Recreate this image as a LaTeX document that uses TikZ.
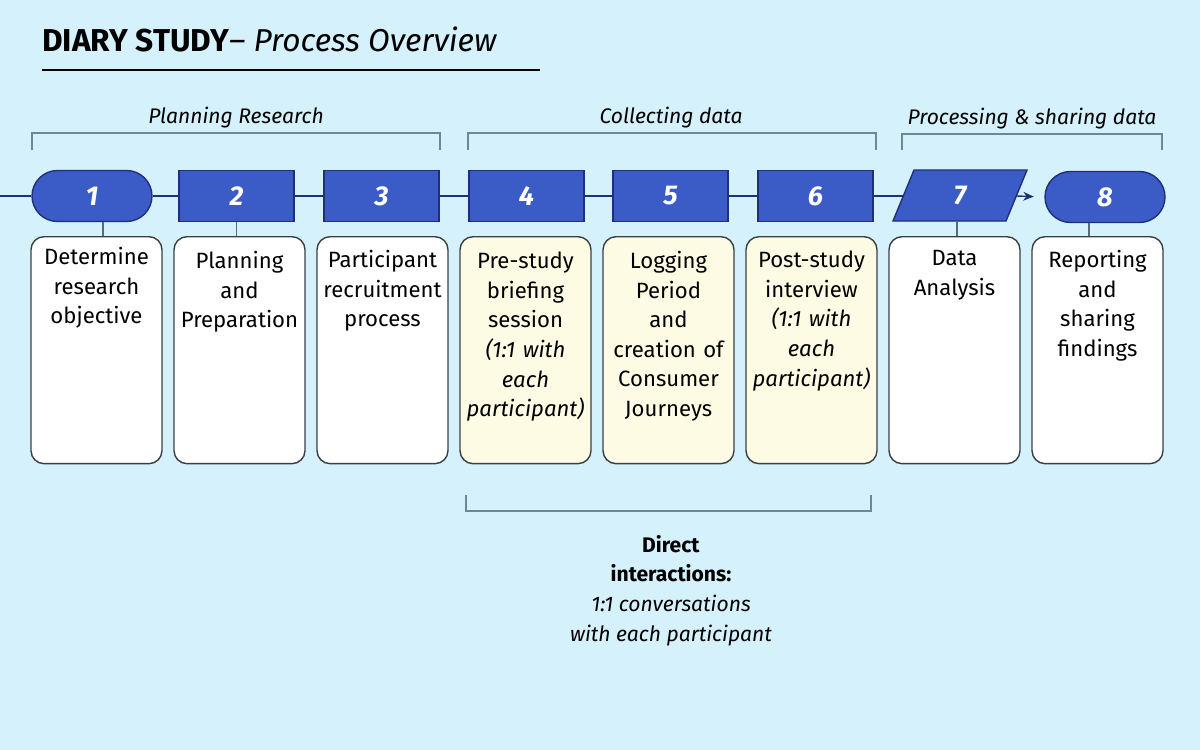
\documentclass[tikz,border=0pt]{standalone}
\usepackage{fontspec}
\setmainfont{Fira Sans}
\usetikzlibrary{shapes.misc,arrows.meta}
\definecolor{bgblue}{HTML}{D4F1FC}
\definecolor{stepblue}{HTML}{3B5BC6}
\definecolor{navy}{HTML}{1F2F7A}
\definecolor{cream}{HTML}{FEFBE4}
\definecolor{boxedge}{HTML}{3A3F44}
\definecolor{brgray}{HTML}{6E8790}
\tikzset{
  numtxt/.style={text=white, font=\bfseries\itshape\fontsize{15.5}{18}\selectfont},
  stepshape/.style={draw=navy, fill=stepblue, line width=0.8pt},
  stepbox/.style={numtxt, stepshape, rectangle, minimum width=2.3cm, minimum height=1.02cm, inner sep=0pt},
  stepround/.style={numtxt, stepshape, rounded rectangle, minimum width=2.4cm, minimum height=1.02cm, inner sep=0pt},
  infobox/.style={draw=boxedge, line width=0.8pt, rounded corners=0.26cm, fill=white, minimum width=2.62cm, minimum height=4.54cm, inner sep=0pt, anchor=north},
  creambox/.style={infobox, fill=cream},
  infotxt/.style={font=\fontsize{12.6}{16.8}\selectfont, align=center, anchor=north, inner sep=0pt, text width=2.6cm},
  flowline/.style={draw=navy, line width=0.8pt},
  stem/.style={draw=brgray!80!black, line width=0.8pt},
  bracket/.style={draw=brgray, line width=0.8pt},
  headtxt/.style={font=\itshape\fontsize{12}{15}\selectfont, anchor=base},
}
\begin{document}
\begin{tikzpicture}[x=0.02cm,y=-0.02cm]
\fill[bgblue] (0,0) rectangle (1200,750);
\useasboundingbox (0,0) rectangle (1200,750);

% title
\node[anchor=base west, inner sep=0pt, font=\fontsize{18}{21}\selectfont] (title) at (42,52) {\textbf{DIARY STUDY}\textit{– Process Overview}};
\coordinate (ulA) at (42,70);
\coordinate (ulB) at (540,70);
\draw[line width=1.3pt, black] (ulA) -- (ulB);

% phase headers and brackets
\node[headtxt] (h1) at (236,124) {Planning Research};
\node[headtxt] (h2) at (671,124) {Collecting data};
\node[headtxt] (h3) at (1032,125) {Processing \& sharing data};
\coordinate (b1a) at (32,150); \coordinate (b1b) at (32,133); \coordinate (b1c) at (440,133); \coordinate (b1d) at (440,150);
\coordinate (b2a) at (468,150); \coordinate (b2b) at (468,133); \coordinate (b2c) at (876,133); \coordinate (b2d) at (876,150);
\coordinate (b3a) at (902,150); \coordinate (b3b) at (902,134); \coordinate (b3c) at (1162,134); \coordinate (b3d) at (1162,150);
\draw[bracket] (b1a) -- (b1b) -- (b1c) -- (b1d);
\draw[bracket] (b2a) -- (b2b) -- (b2c) -- (b2d);
\draw[bracket] (b3a) -- (b3b) -- (b3c) -- (b3d);

% step nodes
\node[stepround] (n1) at (92,196) {1};
\node[stepbox] (n2) at (236.5,196) {2};
\node[stepbox] (n3) at (381.5,196) {3};
\node[stepbox] (n4) at (526.5,196) {4};
\node[stepbox] (n5) at (670.5,196) {5};
\node[stepbox] (n6) at (815.5,196) {6};
% parallelogram 7
\coordinate (p7a) at (893,221); \coordinate (p7b) at (914,170);
\coordinate (p7c) at (1027,170); \coordinate (p7d) at (1006,221);
\draw[stepshape] (p7a) -- (p7b) -- (p7c) -- (p7d) -- cycle;
\coordinate (p7w) at (903.5,196); \coordinate (p7e) at (1016.5,196);
\coordinate (p7s) at (957,221);
\node[numtxt, inner sep=0pt] (n7) at (960,196) {7};
\node[stepround] (n8) at (1105,197) {8};

% flow line
\coordinate (start) at (0,196);
\draw[flowline] (start) -- (n1.west);
\draw[flowline] (n1.east) -- (n2.west);
\draw[flowline] (n2.east) -- (n3.west);
\draw[flowline] (n3.east) -- (n4.west);
\draw[flowline] (n4.east) -- (n5.west);
\draw[flowline] (n5.east) -- (n6.west);
\draw[flowline] (n6.east) -- (p7w);
\draw[flowline, -{Stealth[length=6pt,width=5pt]}, shorten >=6pt] (p7e) -- (n8.west);

% description boxes
\node[infobox] (d1) at (96.5,236) {};
\node[infobox] (d2) at (239.5,236) {};
\node[infobox] (d3) at (382.5,236) {};
\node[creambox] (d4) at (525.5,236) {};
\node[creambox] (d5) at (668.5,236) {};
\node[creambox] (d6) at (811.5,236) {};
\node[infobox] (d7) at (954.5,236) {};
\node[infobox] (d8) at (1097.5,236) {};

% stems
\draw[stem] (n1.south -| 103,0) -- (d1.north -| 103,0);
\draw[stem] (n2.south) -- (n2.south |- d2.north);
\draw[stem] (p7s) -- (p7s |- d7.north);
\draw[stem] (n8.south -| 1089,0) -- (d8.north -| 1089,0);

% box texts
\node[infotxt] (t1) at (96.5,247) {Determine\\research\\objective};
\node[infotxt] (t2) at (239.5,251) {Planning\\and\\Preparation};
\node[infotxt] (t3) at (382.5,250) {Participant\\recruitment\\process};
\node[infotxt] (t4) at (525.5,252) {Pre-study\\briefing\\session\\\textit{(1:1 with}\\\textit{each}\\\textit{participant)}};
\node[infotxt] (t5) at (668.5,251) {Logging\\Period\\and\\creation of\\Consumer\\Journeys};
\node[infotxt] (t6) at (811.5,251) {Post-study\\interview\\\textit{(1:1 with}\\\textit{each}\\\textit{participant)}};
\node[infotxt] (t7) at (954.5,250) {Data\\Analysis};
\node[infotxt] (t8) at (1097.5,250) {Reporting\\and\\sharing\\findings};

% bottom bracket
\coordinate (c1) at (466,495); \coordinate (c2) at (466,511); \coordinate (c3) at (871,511); \coordinate (c4) at (871,495);
\draw[bracket] (c1) -- (c2) -- (c3) -- (c4);
\node[font=\fontsize{12}{16.8}\selectfont, align=center, anchor=north, inner sep=0pt] (direct) at (671,535)
  {\textbf{Direct}\\\textbf{interactions:}\\\textit{1:1 conversations}\\\textit{with each participant}};
\end{tikzpicture}
\end{document}
